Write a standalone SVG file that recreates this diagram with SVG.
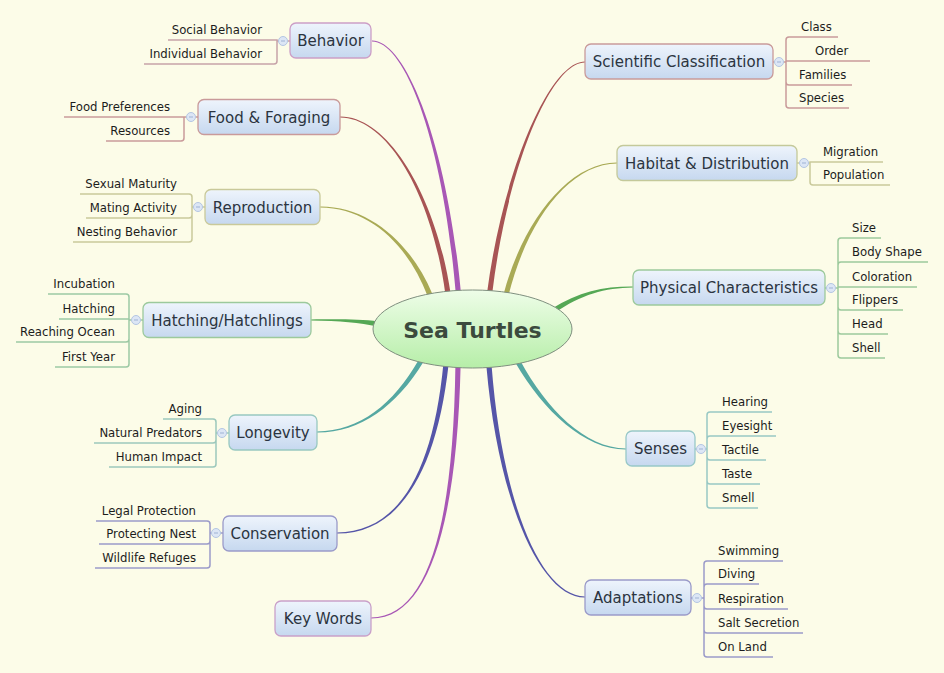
<svg xmlns="http://www.w3.org/2000/svg" width="944" height="673" viewBox="0 0 944 673">
<defs>
<linearGradient id="gBox" x1="0" y1="0" x2="0" y2="1"><stop offset="0" stop-color="#eef4fc"/><stop offset="1" stop-color="#c6d8ef"/></linearGradient>
<linearGradient id="gCen" x1="0" y1="0" x2="0" y2="1"><stop offset="0" stop-color="#eefde8"/><stop offset="1" stop-color="#b6eea8"/></linearGradient>
</defs>
<style>
.box{fill:url(#gBox);stroke-width:1.3}
.t{font-family:"DejaVu Sans",Verdana,sans-serif;font-size:15px;fill:#2b3440;text-anchor:middle}
.s{font-family:"DejaVu Sans",Verdana,sans-serif;font-size:11.7px;fill:#1c1c1c}
.e{text-anchor:end}
.ln{fill:none;stroke-width:1.5}
.col{fill:#dce6f5;stroke:#b4c6e2;stroke-width:1}
.dash{stroke:#9fb2d4;stroke-width:1}
.pu{fill:#a857b5}.rd{fill:#a85454}.ol{fill:#a9aa55}.gr{fill:#55a855}.te{fill:#55a8a2}.bl{fill:#5555a8}
</style>
<rect width="944" height="673" fill="#fcfce8"/>
<g id="connectors">
<path class="pu" d="M461.1,294.8 C446.9,139.8 405,40.1 372,40.4 L372,41.6 C405,41.9 443.1,140.2 455.9,295.2 Z"/>
<path class="rd" d="M450.6,293.6 C436.9,199.7 390,116.1 340,116.4 L340,117.6 C390,117.9 433.1,200.3 445.4,294.4 Z"/>
<path class="ol" d="M432.4,294 C411.8,244.3 370,206.1 320,206.4 L320,207.6 C370,207.9 408.2,245.7 427.6,296 Z"/>
<path class="rd" d="M492.1,294.3 C506.9,170.2 550,62.9 585,62.6 L585,61.4 C550,61.1 503.1,169.8 486.9,293.7 Z"/>
<path class="ol" d="M508.5,295.6 C526.8,220.5 570,163.9 617,163.6 L617,162.4 C570,162.1 523.2,219.5 503.5,294.4 Z"/>
<path class="gr" d="M554.4,313.2 C581.1,294.6 605,287.9 633,287.6 L633,286.4 C605,286.1 578.9,291.4 551.6,308.8 Z"/>
<path class="gr" d="M378.4,321.4 C360.3,319.1 340,319.1 311,319.4 L311,320.6 C340,320.9 359.7,322.9 377.6,326.6 Z"/>
<path class="te" d="M418.8,359.7 C393.4,404 360,431.1 317,431.4 L317,432.6 C360,432.9 396.6,406 423.2,362.3 Z"/>
<path class="te" d="M515.7,363.3 C543.3,410.9 585,449.9 626,449.6 L626,448.4 C585,448.1 546.7,409.1 520.3,360.7 Z"/>
<path class="bl" d="M443.4,363.7 C433.1,469.8 400,532.1 337,532.4 L337,533.6 C400,533.9 436.9,470.2 448.6,364.3 Z"/>
<path class="pu" d="M455.4,366 C453.1,520 430,617.1 371,617.4 L371,618.6 C430,618.9 456.9,520 460.6,366 Z"/>
<path class="bl" d="M486.4,366.2 C498.1,500.2 540,597.9 585,597.6 L585,596.4 C540,596.1 501.9,499.8 491.6,365.8 Z"/>
</g>
<g id="center">
<ellipse cx="472.5" cy="329" rx="99.5" ry="39" fill="url(#gCen)" stroke="#7f8f7f" stroke-width="1"/>
<text x="472.5" y="338" font-family="'DejaVu Sans',Verdana,sans-serif" font-weight="bold" font-size="22" fill="#3b4a3d" text-anchor="middle">Sea Turtles</text>
</g>
<g id="behavior">
<path class="ln" stroke="#c6a2a8" d="M290,41 H287.5 M277,41 H279 M168,40 H277 V41 M144,64 H274 Q277,64 277,61 V41"/>
<circle class="col" cx="283" cy="41" r="4.5"/><path class="dash" d="M281,41 H285"/>
<rect class="box" x="290" y="23" width="81" height="35" rx="6" stroke="#cc9ec6"/>
<text class="t" x="330.5" y="46">Behavior</text>
<text class="s e" x="262" y="34">Social Behavior</text>
<text class="s e" x="262" y="58">Individual Behavior</text>
</g>
<g id="food">
<path class="ln" stroke="#c99a9a" d="M198,117 H195.5 M184,117 H186.5 M64,117 H184 M106,141 H181 Q184,141 184,138 V117"/>
<circle class="col" cx="191" cy="117" r="4.5"/><path class="dash" d="M189,117 H193"/>
<rect class="box" x="198" y="99.5" width="142" height="35" rx="6" stroke="#c99a9a"/>
<text class="t" x="269" y="122.5">Food &amp; Foraging</text>
<text class="s e" x="170" y="111">Food Preferences</text>
<text class="s e" x="170" y="135">Resources</text>
</g>
<g id="reproduction">
<path class="ln" stroke="#c9c99a" d="M205,207 H202.5 M192,207 H193.5 M80,194 H189 Q192,194 192,197 V207 M86,218 H189 Q192,218 192,215 V207 M73,242 H189 Q192,242 192,239 V207"/>
<circle class="col" cx="198" cy="207" r="4.5"/><path class="dash" d="M196,207 H200"/>
<rect class="box" x="205" y="189.5" width="115" height="35" rx="6" stroke="#c9c99a"/>
<text class="t" x="262.5" y="212.5">Reproduction</text>
<text class="s e" x="177" y="188">Sexual Maturity</text>
<text class="s e" x="177" y="212">Mating Activity</text>
<text class="s e" x="177" y="236">Nesting Behavior</text>
</g>
<g id="hatching">
<path class="ln" stroke="#9cc9a4" d="M143,320 H140.5 M129,320 H131.5 M48,294 H126 Q129,294 129,297 V320 M59,319 H129 V320 M16,342 H126 Q129,342 129,339 V320 M55,367 H126 Q129,367 129,364 V320"/>
<circle class="col" cx="136" cy="320" r="4.5"/><path class="dash" d="M134,320 H138"/>
<rect class="box" x="143" y="302.5" width="168" height="35" rx="6" stroke="#9cc99c"/>
<text class="t" x="227" y="325.5">Hatching/Hatchlings</text>
<text class="s e" x="115" y="288">Incubation</text>
<text class="s e" x="115" y="313">Hatching</text>
<text class="s e" x="115" y="336">Reaching Ocean</text>
<text class="s e" x="115" y="361">First Year</text>
</g>
<g id="longevity">
<path class="ln" stroke="#9cc8bc" d="M229,433 H226.5 M216,433 H217.5 M163,419 H213 Q216,419 216,422 V433 M94,443 H213 Q216,443 216,440 V433 M109,467 H213 Q216,467 216,464 V433"/>
<circle class="col" cx="222" cy="433" r="4.5"/><path class="dash" d="M220,433 H224"/>
<rect class="box" x="229" y="415" width="88" height="35" rx="6" stroke="#98c8c0"/>
<text class="t" x="273" y="438">Longevity</text>
<text class="s e" x="202" y="413">Aging</text>
<text class="s e" x="202" y="437">Natural Predators</text>
<text class="s e" x="202" y="461">Human Impact</text>
</g>
<g id="conservation">
<path class="ln" stroke="#9a9ac9" d="M223,533 H220.5 M210,533 H211.5 M96,521 H207 Q210,521 210,524 V533 M99,544 H207 Q210,544 210,541 V533 M95,568 H207 Q210,568 210,565 V533"/>
<circle class="col" cx="216" cy="533" r="4.5"/><path class="dash" d="M214,533 H218"/>
<rect class="box" x="223" y="516" width="114" height="35" rx="6" stroke="#9a9ac9"/>
<text class="t" x="280" y="539">Conservation</text>
<text class="s e" x="196" y="515">Legal Protection</text>
<text class="s e" x="196" y="538">Protecting Nest</text>
<text class="s e" x="196" y="562">Wildlife Refuges</text>
</g>
<g id="keywords">
<rect class="box" x="275" y="601" width="96" height="35" rx="6" stroke="#c9a0c9"/>
<text class="t" x="323" y="624">Key Words</text>
</g>
<g id="classification">
<path class="ln" stroke="#c99a9a" d="M773,62 H774.5 M783.5,62 H786 M838,37 H789 Q786,37 786,40 V62 M870,61 H786 V62 M852,85 H789 Q786,85 786,82 V62 M849,108 H789 Q786,108 786,105 V62"/>
<circle class="col" cx="779" cy="62" r="4.5"/><path class="dash" d="M777,62 H781"/>
<rect class="box" x="585" y="44" width="188" height="35" rx="6" stroke="#c99a9a"/>
<text class="t" x="679" y="67">Scientific Classification</text>
<text class="s" x="801" y="31">Class</text>
<text class="s" x="815" y="55">Order</text>
<text class="s" x="799" y="79">Families</text>
<text class="s" x="799" y="102">Species</text>
</g>
<g id="habitat">
<path class="ln" stroke="#c9c99a" d="M797,163 H799.5 M808.5,163 H810 M883,162 H810 V163 M890,185 H813 Q810,185 810,182 V163"/>
<circle class="col" cx="804" cy="163" r="4.5"/><path class="dash" d="M802,163 H806"/>
<rect class="box" x="617" y="145.5" width="180" height="35" rx="6" stroke="#c4c99a"/>
<text class="t" x="707" y="168.5">Habitat &amp; Distribution</text>
<text class="s" x="823" y="156">Migration</text>
<text class="s" x="823" y="179">Population</text>
</g>
<g id="physical">
<path class="ln" stroke="#9cc99c" d="M825,288 H826.5 M835.5,288 H838 M881,238 H841 Q838,238 838,241 V288 M928,262 H841 Q838,262 838,265 V288 M917,287 H838 V288 M903,310 H841 Q838,310 838,307 V288 M888,334 H841 Q838,334 838,331 V288 M885,358 H841 Q838,358 838,355 V288"/>
<circle class="col" cx="831" cy="288" r="4.5"/><path class="dash" d="M829,288 H833"/>
<rect class="box" x="633" y="270" width="192" height="35" rx="6" stroke="#9cc99c"/>
<text class="t" x="729" y="293">Physical Characteristics</text>
<text class="s" x="852" y="232">Size</text>
<text class="s" x="852" y="256">Body Shape</text>
<text class="s" x="852" y="281">Coloration</text>
<text class="s" x="852" y="304">Flippers</text>
<text class="s" x="852" y="328">Head</text>
<text class="s" x="852" y="352">Shell</text>
</g>
<g id="senses">
<path class="ln" stroke="#98c8c4" d="M695,449 H696.5 M705.5,449 H707 M772,412 H710 Q707,412 707,415 V449 M776,436 H710 Q707,436 707,439 V449 M766,460 H710 Q707,460 707,457 V449 M760,484 H710 Q707,484 707,481 V449 M758,508 H710 Q707,508 707,505 V449"/>
<circle class="col" cx="701" cy="449" r="4.5"/><path class="dash" d="M699,449 H703"/>
<rect class="box" x="626" y="431" width="69" height="35" rx="6" stroke="#98c8c8"/>
<text class="t" x="660.5" y="454">Senses</text>
<text class="s" x="722" y="406">Hearing</text>
<text class="s" x="722" y="430">Eyesight</text>
<text class="s" x="722" y="454">Tactile</text>
<text class="s" x="722" y="478">Taste</text>
<text class="s" x="722" y="502">Smell</text>
</g>
<g id="adaptations">
<path class="ln" stroke="#9a9ac9" d="M691,598 H692.5 M701.5,598 H704 M783,561 H707 Q704,561 704,564 V598 M759,584 H707 Q704,584 704,587 V598 M788,609 H707 Q704,609 704,606 V598 M803,633 H707 Q704,633 704,630 V598 M773,657 H707 Q704,657 704,654 V598"/>
<circle class="col" cx="697" cy="598" r="4.5"/><path class="dash" d="M695,598 H699"/>
<rect class="box" x="585" y="580" width="106" height="35" rx="6" stroke="#9a9ac9"/>
<text class="t" x="638" y="603">Adaptations</text>
<text class="s" x="718" y="555">Swimming</text>
<text class="s" x="718" y="578">Diving</text>
<text class="s" x="718" y="603">Respiration</text>
<text class="s" x="718" y="627">Salt Secretion</text>
<text class="s" x="718" y="651">On Land</text>
</g>
</svg>
